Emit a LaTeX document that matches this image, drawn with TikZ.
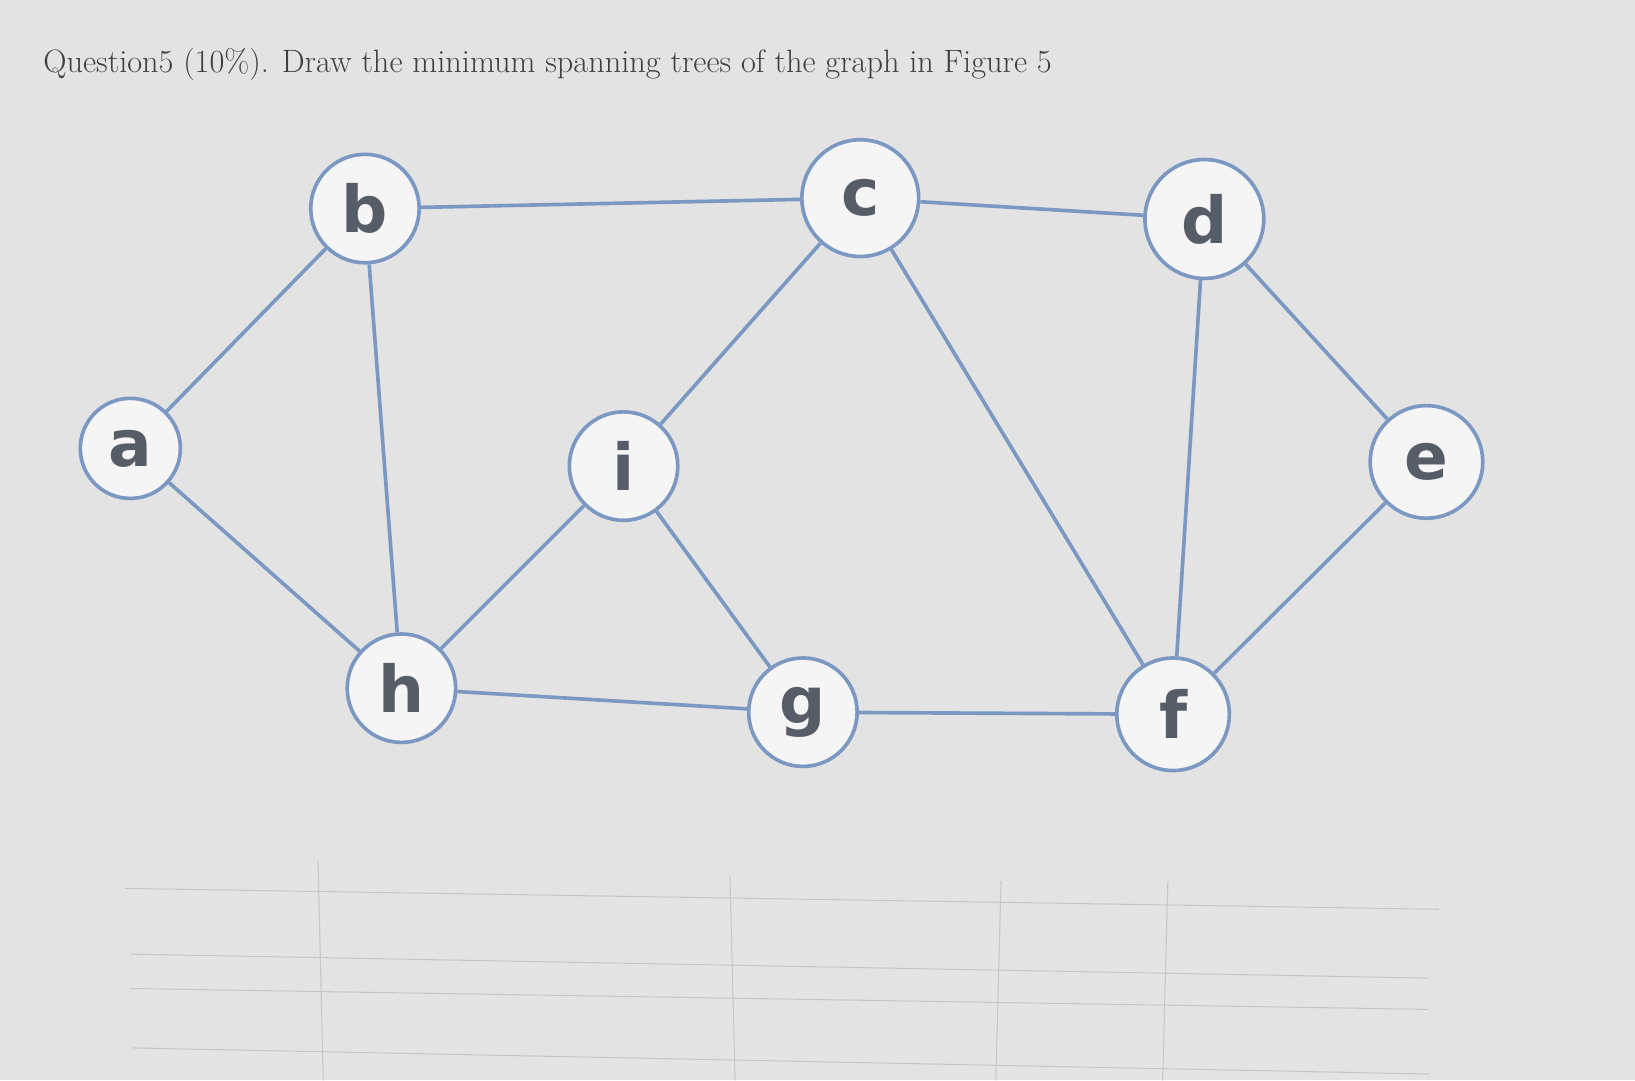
\documentclass[tikz,border=0pt]{standalone}
\usepackage{fontspec}
\setsansfont{DejaVu Sans}
\definecolor{stroke}{HTML}{7B98C2}
\definecolor{lbl}{HTML}{565D66}
\begin{document}
\begin{tikzpicture}[x=1pt,y=-1pt,
  edgecol/.style={draw=stroke, line width=3.5pt},
  vtx/.style={circle, draw=stroke, line width=3.5pt, fill=gray!8, minimum size=104pt, inner sep=0pt, font=\sffamily\bfseries\fontsize{62}{62}\selectfont, text=lbl}]
\fill[gray!22] (0,0) rectangle (1568,1036);
\useasboundingbox (0,0) rectangle (1568,1036);
\node[anchor=west, font=\fontsize{31}{36}\selectfont, text=black!75] (title) at (38,62) {Question5 (10\%). Draw the minimum spanning trees of the graph in Figure 5};
\node[vtx, minimum size=96pt] (a) at (125,430) {a};
\node[vtx] (b) at (350,200) {b};
\node[vtx, minimum size=112pt] (c) at (825,190) {c};
\node[vtx, minimum size=114pt] (d) at (1155,210) {d};
\node[vtx, minimum size=108pt] (e) at (1368,443) {e};
\node[vtx] (i) at (598,447) {i};
\node[vtx] (h) at (385,660) {h};
\node[vtx] (g) at (770,683) {g};
\node[vtx, minimum size=108pt] (f) at (1125,685) {f};
\foreach \u/\v in {b/c,c/d,a/b,a/h,b/h,c/i,c/f,d/f,d/e,e/f,i/h,i/g,h/g,g/f}
  \draw[edgecol] (\u) -- (\v);
\begin{scope}[draw=gray!45, line width=1pt]
\draw (120,852) -- (1380,872);
\draw (125,915) -- (1370,938);
\draw (125,948) -- (1370,968);
\draw (128,1005) -- (1370,1030);
\draw (305,825) -- (310,1036);
\draw (700,840) -- (705,1036);
\draw (960,845) -- (955,1036);
\draw (1120,845) -- (1115,1036);
\end{scope}
\end{tikzpicture}
\end{document}
